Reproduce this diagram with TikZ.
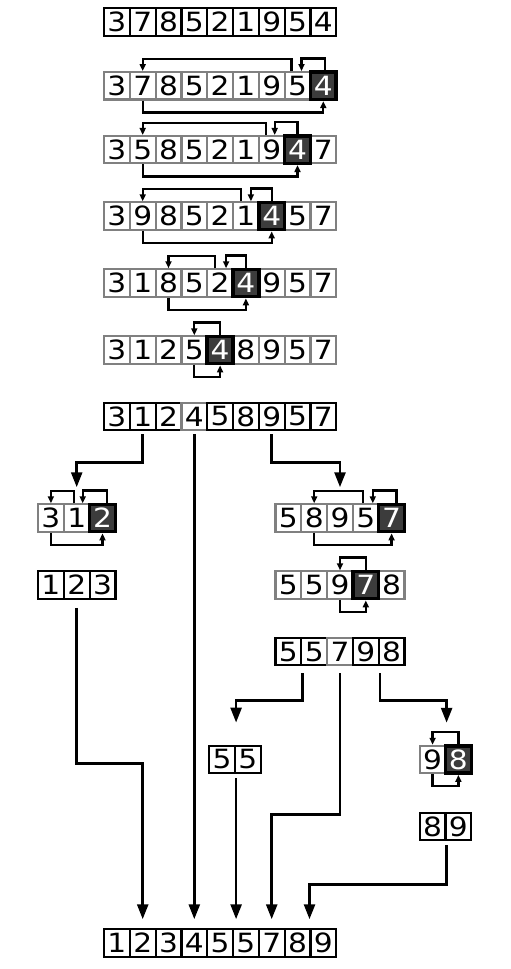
\documentclass[tikz,border=0pt]{standalone}
\usepackage{fontspec}
\setmainfont{DejaVu Sans}[FakeStretch=1.12]
\usetikzlibrary{arrows.meta}
\definecolor{cellgray}{RGB}{128,128,128}
\definecolor{pivfill}{RGB}{60,60,60}
\newcommand\cellrow[5]{%
  \foreach \d/\s [count=\i from 0] in {#5} {%
    \ifnum\i=#4\relax \xdef\pivdigit{\d}\else
    \edef\tmp{\noexpand\node[\s] (#1c\i) at ({#2+25.8*\i},#3) {\d};}\tmp\fi
  }%
  \ifnum#4>-1\relax \node[pcell] (#1c#4) at ({#2+25.8*#4},#3) {\pivdigit};\fi
}
\begin{document}
\begin{tikzpicture}[x=1pt,y=-1pt,
  cellbase/.style={minimum width=25.8pt,minimum height=27.3pt,inner sep=0pt,draw,line width=2.2pt,font=\fontsize{26.5}{30}\selectfont,fill=white},
  bcell/.style={cellbase,draw=black},
  gcell/.style={cellbase,draw=cellgray},
  pcell/.style={cellbase,draw=black,fill=pivfill,text=white,line width=3.5pt},
  br/.style={draw,line width=2.3pt,-{Triangle[length=7pt,width=6pt]}},
  conn/.style={draw,line width=2.6pt,-{Triangle[length=15pt,width=11pt]}}]
\useasboundingbox (0,0) rectangle (511,969);
\fill[white] (0,0) rectangle (511,969);

\cellrow{r0}{116.9}{22}{-1}{3/bcell,7/bcell,8/bcell,5/bcell,2/bcell,1/bcell,9/bcell,5/bcell,4/bcell}
\cellrow{r1}{116.9}{85.8}{8}{3/gcell,7/gcell,8/gcell,5/gcell,2/gcell,1/gcell,9/gcell,5/gcell,4/gcell}
\cellrow{r2}{116.9}{149.7}{7}{3/gcell,5/gcell,8/gcell,5/gcell,2/gcell,1/gcell,9/gcell,4/gcell,7/gcell}
\cellrow{r3}{116.9}{216}{6}{3/gcell,9/gcell,8/gcell,5/gcell,2/gcell,1/gcell,4/gcell,5/gcell,7/gcell}
\cellrow{r4}{116.9}{283}{5}{3/gcell,1/gcell,8/gcell,5/gcell,2/gcell,4/gcell,9/gcell,5/gcell,7/gcell}
\cellrow{r5}{116.9}{350}{4}{3/gcell,1/gcell,2/gcell,5/gcell,4/gcell,8/gcell,9/gcell,5/gcell,7/gcell}
\cellrow{r6}{116.9}{416.5}{-1}{3/bcell,1/bcell,2/bcell,4/gcell,5/bcell,8/bcell,9/bcell,5/bcell,7/bcell}
\cellrow{L1}{50.9}{518}{2}{3/gcell,1/gcell,2/gcell}
\cellrow{L2}{50.9}{585}{-1}{1/bcell,2/bcell,3/bcell}
\cellrow{R1}{288.4}{518}{4}{5/gcell,8/gcell,9/gcell,5/gcell,7/gcell}
\cellrow{R2}{288.4}{585}{3}{5/gcell,5/gcell,9/gcell,7/gcell,8/gcell}
\cellrow{R3}{288.4}{651.7}{-1}{5/bcell,5/bcell,7/gcell,9/bcell,8/bcell}
\cellrow{S1}{222.1}{759.3}{-1}{5/bcell,5/bcell}
\cellrow{T1}{432.6}{759.5}{1}{9/gcell,8/gcell}
\cellrow{T2}{432.6}{826.7}{-1}{8/bcell,9/bcell}
\cellrow{F}{116.9}{943}{-1}{1/bcell,2/bcell,3/bcell,4/bcell,5/bcell,5/bcell,7/bcell,8/bcell,9/bcell}

% swap brackets
\draw[br] ([xshift=-6pt]r1c7.north) -- ++(0,12pt) -| (r1c1.north);
\draw[br] ([xshift=2pt]r1c8.north) -- ++(0,12pt) -| ([xshift=4pt]r1c7.north);
\draw[br] (r1c1.south) -- ++(0,-12pt) -| (r1c8.south);

\draw[br] ([xshift=-6pt]r2c6.north) -- ++(0,12pt) -| (r2c1.north);
\draw[br] (r2c7.north) -- ++(0,12pt) -| ([xshift=3pt]r2c6.north);
\draw[br] (r2c1.south) -- ++(0,-12pt) -| (r2c7.south);

\draw[br] ([xshift=-5pt]r3c5.north) -- ++(0,12pt) -| (r3c1.north);
\draw[br] (r3c6.north) -- ++(0,12pt) -| ([xshift=5pt]r3c5.north);
\draw[br] (r3c1.south) -- ++(0,-12pt) -| (r3c6.south);

\draw[br] ([xshift=-5pt]r4c4.north) -- ++(0,12pt) -| (r4c2.north);
\draw[br] (r4c5.north) -- ++(0,12pt) -| ([xshift=6pt]r4c4.north);
\draw[br] (r4c2.south) -- ++(0,-12pt) -| (r4c5.south);

\draw[br] (r5c4.north) -- ++(0,12pt) -| (r5c3.north);
\draw[br] (r5c3.south) -- ++(0,-12pt) -| (r5c4.south);

\draw[br] ([xshift=-3pt]L1c1.north) -- ++(0,12pt) -| (L1c0.north);
\draw[br] ([xshift=4.5pt]L1c2.north) -- ++(0,12pt) -| ([xshift=6pt]L1c1.north);
\draw[br] (L1c0.south) -- ++(0,-12pt) -| (L1c2.south);

\draw[br] ([xshift=-3pt]R1c3.north) -- ++(0,12pt) -| (R1c1.north);
\draw[br] ([xshift=5pt]R1c4.north) -- ++(0,12pt) -| ([xshift=7pt]R1c3.north);
\draw[br] (R1c1.south) -- ++(0,-12pt) -| (R1c4.south);

\draw[br] (R2c3.north) -- ++(0,12pt) -| (R2c2.north);
\draw[br] (R2c2.south) -- ++(0,-12pt) -| (R2c3.south);

\draw[br] (T1c1.north) -- ++(0,12pt) -| (T1c0.north);
\draw[br] (T1c0.south) -- ++(0,-12pt) -| (T1c1.south);

% main connectors
\draw[conn] ([yshift=-3pt]r6c1.south) -- ++(0,-28pt) -| ([yshift=16pt]L1c1.north);
\draw[conn] ([yshift=-3pt]r6c6.south) -- ++(0,-28pt) -| ([yshift=16pt]R1c2.north);
\draw[conn] ([yshift=-3pt]r6c3.south) -- ([yshift=9pt]Fc3.north);
\draw[conn] ([yshift=-8pt]L2c1.south) -- ++(0,-156pt) -| ([yshift=9pt]Fc1.north);
\coordinate (s1b) at ([yshift=-4pt]S1c0.south east);
\coordinate (s1f) at (s1b |- Fc4.north);
\draw[conn] (s1b) -- ([yshift=9pt]s1f);
\draw[conn] ([yshift=-7pt]R3c2.south) -- ++(0,-141pt) -| ([yshift=9pt]Fc6.north);
\draw[conn] ([yshift=-7pt]R3c0.south east) -- ++(0,-27pt) -| ([yshift=22pt]S1c0.north east);
\draw[conn] ([yshift=-7pt]R3c3.south east) -- ++(0,-27pt) -| ([yshift=22pt]T1c0.north east);
\draw[conn] ([yshift=-4pt]T2c0.south east) -- ++(0,-39pt) -| ([xshift=-2pt,yshift=9pt]Fc7.north east);
\end{tikzpicture}
\end{document}
